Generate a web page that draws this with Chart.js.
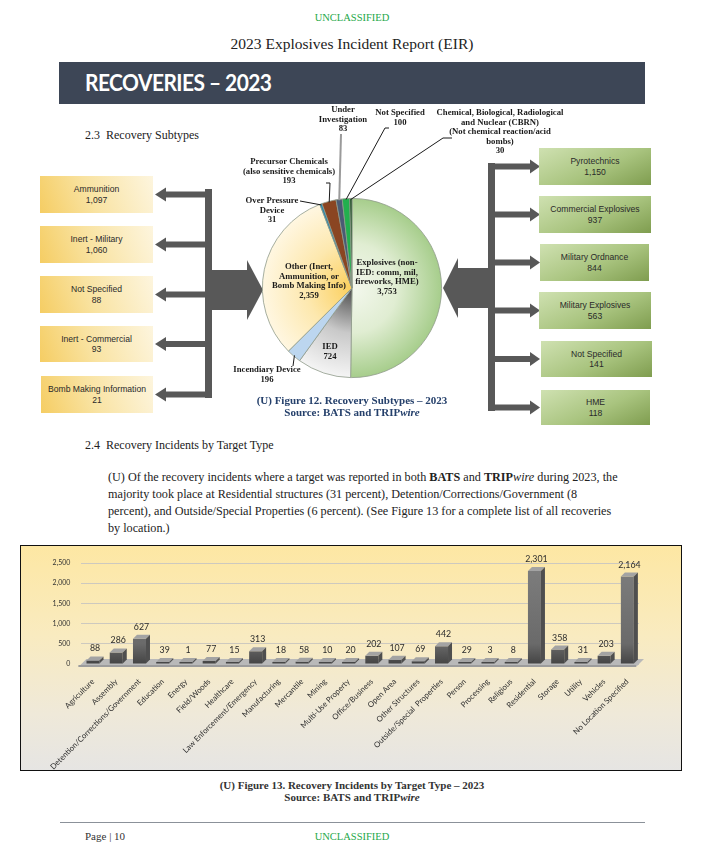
<!DOCTYPE html>
<html>
<head>
<meta charset="utf-8">
<script src="https://cdn.jsdelivr.net/npm/chart.js@4.4.1/dist/chart.umd.min.js"></script>
<style>
  html, body { margin: 0; padding: 0; background: #fff; }
  #page { position: relative; width: 704px; height: 861px; overflow: hidden; font-family: "Liberation Serif", serif; color: #222; }
  .abs { position: absolute; }
  .ctr { text-align: center; white-space: nowrap; }
  .green { color: #25a84a; font-size: 10.5px; }
  .plab { font-weight: bold; font-size: 8.7px; line-height: 9.6px; color: #1a1a1a; }
  .box { position: absolute; font-family: "Liberation Sans", Arial, sans-serif; font-size: 8.6px; line-height: 10.5px; color: #2a2a2a;
         display: flex; flex-direction: column; justify-content: center; align-items: center; text-align: center; }
  .ybox { background: linear-gradient(70deg, #f5cd63 0%, #f9e3a2 45%, #fdf5de 100%); }
  .gbox { background: linear-gradient(155deg, #cfe1b1 0%, #a9c47f 55%, #7f9d4f 100%); }
  .cap { font-weight: bold; font-size: 11px; line-height: 12px; }
</style>
</head>
<body>
<div id="page">
  <div class="abs ctr green" style="left:252px;width:200px;top:12px;">UNCLASSIFIED</div>
  <div class="abs ctr" style="left:152px;width:400px;top:35px;font-size:15.5px;">2023 Explosives Incident Report (EIR)</div>
  <div class="abs" style="left:59px;top:62px;width:586px;height:42px;background:#3d4656;"></div>
  <div class="abs" style="left:85px;top:66px;color:#fff;font-family:Lato,sans-serif;font-weight:bold;font-size:23px;letter-spacing:-0.6px;line-height:32px;transform:scaleX(0.91);transform-origin:left center;">RECOVERIES – 2023</div>
  <div class="abs" style="left:85px;top:128px;font-size:12px;">2.3&nbsp; Recovery Subtypes</div>

  <svg class="abs" style="left:0;top:0;" width="704" height="861" id="arrows"></svg>
  <div id="boxes"></div>

  <canvas id="pie" class="abs" style="left:222px;top:100px;" width="260" height="316"></canvas>
  <div id="pieLabels"></div>

  <div class="abs ctr cap" style="left:202px;width:300px;top:394px;color:#25406b;">(U) Figure 12. Recovery Subtypes – 2023<br>Source: BATS and TRIP<i>wire</i></div>

  <div class="abs" style="left:85px;top:438px;font-size:12px;">2.4&nbsp; Recovery Incidents by Target Type</div>
  <div class="abs" style="left:108px;top:469px;font-size:12.2px;line-height:17px;white-space:nowrap;">
    (U) Of the recovery incidents where a target was reported in both <b>BATS</b> and <b>TRIP</b><i>wire</i> during 2023, the<br>
    majority took place at Residential structures (31 percent), Detention/Corrections/Government (8<br>
    percent), and Outside/Special Properties (6 percent). (See Figure 13 for a complete list of all recoveries<br>
    by location.)
  </div>

  <div class="abs" style="left:20px;top:545px;width:660px;height:224px;border:1.5px solid #111;background:linear-gradient(180deg,#fde7a3 0%,#f9ebc0 40%,#efe9d9 75%,#e6e5e3 100%);"></div>
  <canvas id="bars" class="abs" style="left:21px;top:546px;" width="660" height="224"></canvas>

  <div class="abs ctr cap" style="left:152px;width:400px;top:779px;color:#333;">(U) Figure 13. Recovery Incidents by Target Type – 2023<br>Source: BATS and TRIP<i>wire</i></div>

  <div class="abs" style="left:60px;top:822px;width:585px;height:1px;background:#8b9199;"></div>
  <div class="abs" style="left:85px;top:830px;font-size:11px;color:#333;">Page | 10</div>
  <div class="abs ctr green" style="left:252px;width:200px;top:831px;">UNCLASSIFIED</div>
</div>

<script>
  // --- Figure 12 data ---
  const subtypeNames = [
    'Explosives (non-IED: comm, mil, fireworks, HME)', 'IED', 'Incendiary Device',
    'Other (Inert, Ammunition, or Bomb Making Info)', 'Over Pressure Device',
    'Precursor Chemicals (also sensitive chemicals)', 'Under Investigation', 'Not Specified',
    'Chemical, Biological, Radiological and Nuclear (CBRN) (Not chemical reaction/acid bombs)'
  ];
  const subtypeCounts = [3753, 724, 196, 2359, 31, 193, 83, 100, 30];

  const otherNames = ['Ammunition', 'Inert - Military', 'Not Specified', 'Inert - Commercial', 'Bomb Making Information'];
  const otherCounts = [1097, 1060, 88, 93, 21];

  const explosiveNames = ['Pyrotechnics', 'Commercial Explosives', 'Military Ordnance', 'Military Explosives', 'Not Specified', 'HME'];
  const explosiveCounts = [1150, 937, 844, 563, 141, 118];

  // --- Figure 13 data ---
  const targetTypes = [
    'Agriculture', 'Assembly', 'Detention/Corrections/Government', 'Education', 'Energy', 'Field/Woods',
    'Healthcare', 'Law Enforcement/Emergency', 'Manufacturing', 'Mercantile', 'Mining', 'Multi-Use Property',
    'Office/Business', 'Open Area', 'Other Structures', 'Outside/Special  Properties', 'Person', 'Processing',
    'Religious', 'Residential', 'Storage', 'Utility', 'Vehicles', 'No Location Specified'
  ];
  const targetCounts = [88, 286, 627, 39, 1, 77, 15, 313, 18, 58, 10, 20, 202, 107, 69, 442, 29, 3, 8, 2301, 358, 31, 203, 2164];
  const yTicks = [0, 500, 1000, 1500, 2000, 2500];

  const fmt = n => n.toLocaleString('en-US');

  // side boxes + arrows (layout only)
  const boxes = document.getElementById('boxes');
  const leftBoxes = [[40, 176, 113, 37], [40, 226, 113, 37], [40, 276, 113, 37], [40, 326, 113, 36], [41, 376, 112, 37]];
  const rightBoxes = [[539, 148, 112, 37], [539, 196, 112, 37], [540, 244, 109, 37], [539, 292, 112, 37], [541, 341, 111, 36], [541, 390, 109, 35]];
  otherNames.forEach((n, i) => {
    const [x, y, w, h] = leftBoxes[i];
    boxes.insertAdjacentHTML('beforeend', `<div class="box ybox" style="left:${x}px;top:${y}px;width:${w}px;height:${h}px;">${n}<br>${fmt(otherCounts[i])}</div>`);
  });
  explosiveNames.forEach((n, i) => {
    const [x, y, w, h] = rightBoxes[i];
    boxes.insertAdjacentHTML('beforeend', `<div class="box gbox" style="left:${x}px;top:${y}px;width:${w}px;height:${h}px;">${n}<br>${fmt(explosiveCounts[i])}</div>`);
  });

  const svg = document.getElementById('arrows');
  let s = '';
  const col = '#585858';
  // left bus
  s += `<rect x="205" y="189" width="7" height="209" fill="${col}"/>`;
  leftBoxes.forEach(([x, y, w, h]) => {
    const c = y + h / 2;
    s += `<rect x="164" y="${c - 3}" width="45" height="6" fill="${col}"/>`;
    s += `<polygon points="155,${c} 166,${c - 7} 166,${c + 7}" fill="${col}"/>`;
  });
  s += `<rect x="210" y="270" width="38" height="40" fill="${col}"/>`;
  s += `<polygon points="247,260 263,290 247,320" fill="${col}"/>`;
  // right bus
  s += `<rect x="488" y="163" width="7" height="248" fill="${col}"/>`;
  rightBoxes.forEach(([x, y, w, h]) => {
    const c = y + h / 2;
    s += `<rect x="490" y="${c - 3}" width="42" height="6" fill="${col}"/>`;
    s += `<polygon points="540,${c} 530,${c - 7} 530,${c + 7}" fill="${col}"/>`;
  });
  s += `<rect x="456" y="268" width="34" height="40" fill="${col}"/>`;
  s += `<polygon points="458,258 443,288 458,318" fill="${col}"/>`;
  svg.innerHTML = s;

  // pie labels (text from data arrays)
  const pieLabelLayout = [
    { i: 0, cx: 387, top: 258, lines: ['Explosives (non-', 'IED: comm, mil,', 'fireworks, HME)'] },
    { i: 1, cx: 330, top: 342, lines: ['IED'] },
    { i: 2, cx: 267, top: 365, lines: ['Incendiary Device'] },
    { i: 3, cx: 309, top: 262, lines: ['Other (Inert,', 'Ammunition, or', 'Bomb Making Info)'] },
    { i: 4, cx: 272, top: 196, lines: ['Over Pressure', 'Device'] },
    { i: 5, cx: 289, top: 157, lines: ['Precursor Chemicals', '(also sensitive chemicals)'] },
    { i: 6, cx: 343, top: 105, lines: ['Under', 'Investigation'] },
    { i: 7, cx: 400, top: 108, lines: ['Not Specified'] },
    { i: 8, cx: 500, top: 108, lines: ['Chemical, Biological, Radiological', 'and Nuclear (CBRN)', '(Not chemical reaction/acid', 'bombs)'] },
  ];
  const pl = document.getElementById('pieLabels');
  pieLabelLayout.forEach(l => {
    pl.insertAdjacentHTML('beforeend',
      `<div class="abs ctr plab" style="left:${l.cx - 100}px;width:200px;top:${l.top}px;">${l.lines.join('<br>')}<br>${fmt(subtypeCounts[l.i])}</div>`);
  });

  // leader lines: page coords of the label end, the slice end point comes from the arc
  const leaders = [
    { i: 2, pts: [[293, 366]] },
    { i: 4, pts: [[300, 201]] },
    { i: 5, pts: [[330, 183], [326, 183]] },
    { i: 6, pts: [[341, 134]], color: '#9a9a9a', width: 2 },
    { i: 7, pts: [[385, 128], [389, 128]] },
    { i: 8, pts: [[443, 138], [452, 138]] },
  ];
  const pieOffset = [222, 100];

  const leaderPlugin = {
    id: 'leaders',
    afterDatasetsDraw(chart) {
      const ctx = chart.ctx;
      const arcs = chart.getDatasetMeta(0).data;
      ctx.save();
      leaders.forEach(l => {
        const a = arcs[l.i].getProps(['x', 'y', 'startAngle', 'endAngle', 'outerRadius'], true);
        const mid = (a.startAngle + a.endAngle) / 2;
        ctx.beginPath();
        ctx.moveTo(a.x + Math.cos(mid) * (a.outerRadius - 1), a.y + Math.sin(mid) * (a.outerRadius - 1));
        l.pts.forEach(p => ctx.lineTo(p[0] - pieOffset[0], p[1] - pieOffset[1]));
        ctx.strokeStyle = l.color || '#1a1a1a';
        ctx.lineWidth = l.width || 1;
        ctx.stroke();
      });
      ctx.restore();
    }
  };

  const flatColors = ['#bcd9a5', '#d9d9d9', '#bcd6ef', '#fde6a2', '#2a88ad', '#8a4522', '#4a5b74', '#22b04e', '#1b4e22'];
  const radialStops = {
    0: ['#f4f8ee', '#e0edd2', '#a6cd8b'],
    1: ['#4a4a4a', '#c9c9c9', '#f5f5f5'],
    3: ['#fbcf5c', '#fde8ae', '#fff7e2'],
  };
  const sliceColor = c => {
    const i = c.dataIndex;
    const area = c.chart.chartArea;
    if (!area || !radialStops[i]) return flatColors[i];
    const cx = (area.left + area.right) / 2, cy = (area.top + area.bottom) / 2;
    const r = Math.min(area.width, area.height) / 2;
    const g = c.chart.ctx.createRadialGradient(cx, cy, 0, cx, cy, r);
    g.addColorStop(0, radialStops[i][0]);
    g.addColorStop(0.5, radialStops[i][1]);
    g.addColorStop(1, radialStops[i][2]);
    return g;
  };

  new Chart(document.getElementById('pie'), {
    type: 'pie',
    data: {
      labels: subtypeNames,
      datasets: [{
        data: subtypeCounts,
        backgroundColor: sliceColor,
        borderColor: '#8f9a8a',
        borderWidth: 0.8,
      }]
    },
    options: {
      responsive: false,
      animation: false,
      layout: { padding: { top: 98, bottom: 38, left: 40, right: 40 } },
      plugins: { legend: { display: false }, tooltip: { enabled: false } }
    },
    plugins: [leaderPlugin]
  });

  // 3D-ish bars: floor, top/side faces, value labels
  const DX = 4, DY = 4;
  const bar3dPlugin = {
    id: 'bar3d',
    beforeDatasetsDraw(chart) {
      const { ctx, chartArea } = chart;
      const z = chart.scales.y.getPixelForValue(0);
      ctx.save();
      ctx.beginPath();
      ctx.moveTo(chartArea.left - 3, z + 3);
      ctx.lineTo(chartArea.right - 3, z + 3);
      ctx.lineTo(chartArea.right + 5, z - 5);
      ctx.lineTo(chartArea.left + 5, z - 5);
      ctx.closePath();
      ctx.fillStyle = '#b9b9b9';
      ctx.fill();
      ctx.fillStyle = '#9c9c9c';
      ctx.fillRect(chartArea.left - 3, z + 1, chartArea.width, 2);
      ctx.restore();
    },
    afterDatasetsDraw(chart) {
      const { ctx } = chart;
      ctx.save();
      chart.getDatasetMeta(0).data.forEach((b, i) => {
        const p = b.getProps(['x', 'y', 'base', 'width'], true);
        const l = p.x - p.width / 2, r = p.x + p.width / 2;
        // top face
        ctx.beginPath();
        ctx.moveTo(l, p.y); ctx.lineTo(l + DX, p.y - DY); ctx.lineTo(r + DX, p.y - DY); ctx.lineTo(r, p.y); ctx.closePath();
        ctx.fillStyle = '#a3a3a3'; ctx.fill();
        // side face
        ctx.beginPath();
        ctx.moveTo(r, p.y); ctx.lineTo(r + DX, p.y - DY); ctx.lineTo(r + DX, p.base - DY); ctx.lineTo(r, p.base); ctx.closePath();
        ctx.fillStyle = '#4f4f4f'; ctx.fill();
        // value label
        ctx.fillStyle = '#2b2b2b';
        ctx.font = '8.8px Lato, "Liberation Sans", sans-serif';
        ctx.textAlign = 'center';
        ctx.textBaseline = 'alphabetic';
        ctx.fillText(fmt(targetCounts[i]), p.x + 2, Math.min(p.y, p.base - 2) - 9);
      });
      ctx.restore();
    }
  };

  new Chart(document.getElementById('bars'), {
    type: 'bar',
    data: {
      labels: targetTypes,
      datasets: [{
        data: targetCounts,
        backgroundColor: c => {
          const area = c.chart.chartArea;
          if (!area) return '#6e6e6e';
          const g = c.chart.ctx.createLinearGradient(0, area.top, 0, area.bottom);
          g.addColorStop(0, '#7e7e7e');
          g.addColorStop(0.8, '#6a6a6a');
          g.addColorStop(1, '#444');
          return g;
        },
        categoryPercentage: 1,
        barPercentage: 0.56,
        minBarLength: 2,
      }]
    },
    options: {
      responsive: false,
      animation: false,
      layout: { padding: { top: 17, right: 42, left: 0, bottom: 0 } },
      plugins: { legend: { display: false }, tooltip: { enabled: false } },
      scales: {
        x: {
          grid: { display: false },
          border: { display: false },
          ticks: {
            autoSkip: false, minRotation: 45, maxRotation: 45, padding: 5, color: '#2e2e2e',
            font: { family: 'Lato, "Liberation Sans", sans-serif', size: 7.8 }
          },
          afterFit: s => { s.height = 106; }
        },
        y: {
          min: 0, max: 2500,
          afterBuildTicks: s => { s.ticks = yTicks.map(v => ({ value: v })); },
          grid: { color: '#cdc9bf', drawTicks: false },
          border: { display: false },
          ticks: {
            padding: 11, color: '#333',
            font: { family: 'Lato, "Liberation Sans", sans-serif', size: 7 },
            callback: v => fmt(v)
          },
          afterFit: s => { s.width = 60.4; }
        }
      }
    },
    plugins: [bar3dPlugin]
  });
</script>
</body>
</html>
